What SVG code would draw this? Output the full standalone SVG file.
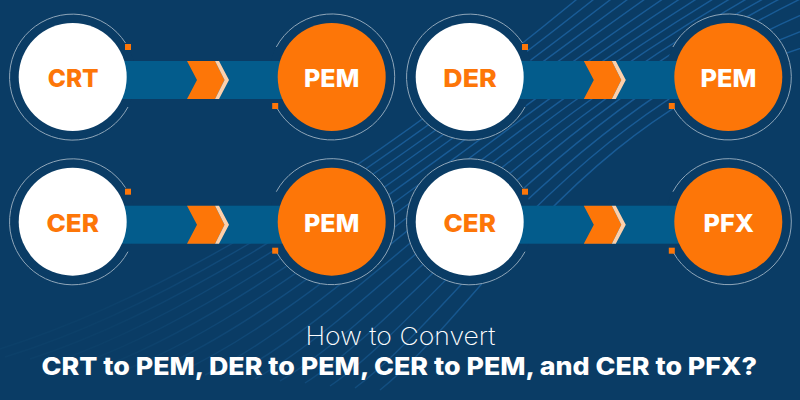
<svg xmlns="http://www.w3.org/2000/svg" width="800" height="400" viewBox="0 0 800 400">
<style>
.lbl{font-family:"Inter","Liberation Sans",sans-serif;font-weight:800;font-size:24.500px}
.ttl{font-family:"Inter","Liberation Sans",sans-serif;fill:#fff}
.ring{fill:none;stroke:#8fa6b9;stroke-width:1}
.sq{fill:#fd7608}
.wave path{fill:none;stroke:url(#fade);stroke-width:1.400}
.band{fill:#035c8c}
.chev{fill:#fd7608}
.chevl{fill:#fdd0ab}
.halo{fill:#0a3c65}
</style>
<defs>
<linearGradient id="fade" gradientUnits="userSpaceOnUse" x1="140" y1="370" x2="430" y2="170">
<stop offset="0" stop-color="#0c4069"/>
<stop offset="1" stop-color="#185b96"/>
</linearGradient>
<g id="src"><path class="ring" d="M125.500 43A63 63 0 1 0 128 107"/><rect class="sq" x="125" y="44" width="6" height="6"/><circle cx="72.700" cy="77" r="54" fill="#fff"/></g>
<g id="dst"><path class="ring" d="M276.300 47A63 63 0 1 1 276.900 108"/><rect class="sq" x="272.200" y="103" width="6" height="6"/><circle cx="331.700" cy="77" r="54" fill="#fd7608"/></g>
<g id="arrow"><rect class="band" x="120" y="61" width="165" height="38"/><polygon class="chev" points="187,61 215,61 224.500,80 215,99 187,99 197,80"/><polygon class="chevl" points="215,61 219,61 229,80 219,99 215,99 224.500,80"/></g>
</defs>
<rect width="800" height="400" fill="#0a3c65"/>
<g class="wave">
<path d="M-20 355C170 300 385 160 600 -20"/>
<path d="M5 357C189 301 398 156 618 -20"/>
<path d="M30 359C209 301 411 153 636 -20"/>
<path d="M55 362C228 302 423 149 654 -20"/>
<path d="M80 364C248 303 436 145 672 -20"/>
<path d="M105 366C267 303 449 141 691 -20"/>
<path d="M130 368C286 304 462 138 709 -20"/>
<path d="M155 370C306 304 475 134 727 -20"/>
<path d="M180 372C325 305 488 130 745 -20"/>
<path d="M205 375C344 306 500 126 763 -20"/>
<path d="M230 377C364 306 513 123 781 -20"/>
<path d="M255 379C383 307 526 119 799 -20"/>
<path d="M280 381C403 307 539 115 817 -20"/>
<path d="M305 383C422 308 552 111 830 -15"/>
<path d="M330 386C441 309 564 108 830 3"/>
<path d="M355 388C461 309 577 104 830 21"/>
<path d="M380 390C480 310 590 100 830 40"/>
</g>
<g id="halos">
<circle class="halo" cx="72.700" cy="77" r="63"/><circle class="halo" cx="331.700" cy="77" r="63"/>
<circle class="halo" cx="469.700" cy="77" r="63"/><circle class="halo" cx="728.300" cy="77" r="63"/>
<circle class="halo" cx="72.700" cy="221.700" r="63"/><circle class="halo" cx="331.700" cy="221.700" r="63"/>
<circle class="halo" cx="469.700" cy="221.700" r="63"/><circle class="halo" cx="728.300" cy="221.700" r="63"/>
</g>
<g id="connectors">
<use href="#arrow"/>
<use href="#arrow" x="396.800"/>
<use href="#arrow" y="144.700"/>
<use href="#arrow" x="396.800" y="144.700"/>
</g>
<g id="node-crt"><use href="#src"/><text class="lbl" x="47.700" y="87" fill="#fd7608" textLength="51" lengthAdjust="spacingAndGlyphs">CRT</text></g>
<g id="node-pem1"><use href="#dst"/><text class="lbl" x="304" y="87" fill="#fff" textLength="55.300" lengthAdjust="spacingAndGlyphs">PEM</text></g>
<g id="node-der"><use href="#src" x="397"/><text class="lbl" x="443.300" y="87" fill="#fd7608" textLength="53.400" lengthAdjust="spacingAndGlyphs">DER</text></g>
<g id="node-pem2"><use href="#dst" x="396.600"/><text class="lbl" x="700.500" y="87" fill="#fff" textLength="56" lengthAdjust="spacingAndGlyphs">PEM</text></g>
<g id="node-cer1"><use href="#src" y="144.700"/><text class="lbl" x="46.500" y="231.700" fill="#fd7608" textLength="52.500" lengthAdjust="spacingAndGlyphs">CER</text></g>
<g id="node-pem3"><use href="#dst" y="144.700"/><text class="lbl" x="304" y="231.700" fill="#fff" textLength="55.300" lengthAdjust="spacingAndGlyphs">PEM</text></g>
<g id="node-cer2"><use href="#src" x="397" y="144.700"/><text class="lbl" x="443.500" y="231.700" fill="#fd7608" textLength="52.500" lengthAdjust="spacingAndGlyphs">CER</text></g>
<g id="node-pfx"><use href="#dst" x="396.600" y="144.700"/><text class="lbl" x="703.500" y="231.700" fill="#fff" textLength="50.500" lengthAdjust="spacingAndGlyphs">PFX</text></g>
<text class="ttl" x="305.500" y="345" font-size="25" font-weight="200" textLength="190" lengthAdjust="spacingAndGlyphs">How to Convert</text>
<text class="ttl" x="41.500" y="375" font-size="24.500" font-weight="800" textLength="715.500" lengthAdjust="spacingAndGlyphs">CRT to PEM, DER to PEM, CER to PEM, and CER to PFX?</text>
</svg>
